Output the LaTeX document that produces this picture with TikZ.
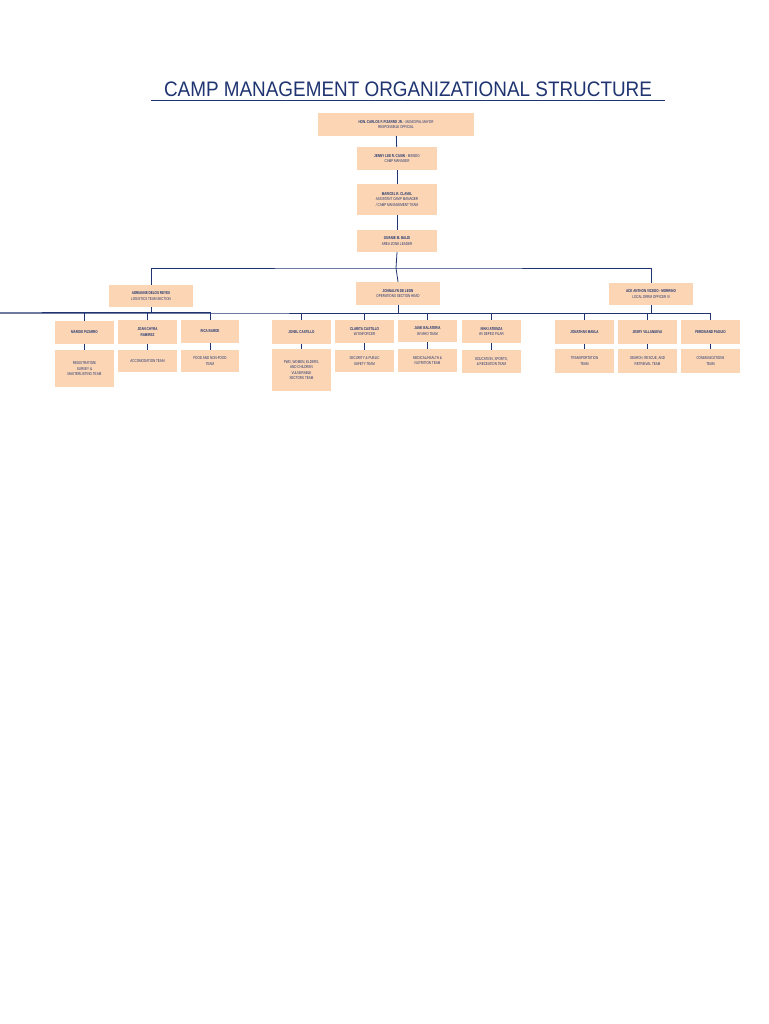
\documentclass[tikz,border=0pt]{standalone}
\usepackage{fontspec}
\setmainfont{Liberation Sans}[FakeStretch=0.72]
\definecolor{navy}{HTML}{1F3470}
\definecolor{peach}{HTML}{FCD5B4}
\begin{document}
\begin{tikzpicture}[x=1pt,y=-1pt,
  bx/.style={fill=peach,draw=none,text=navy,align=center,font=\fontsize{4.2}{5.4}\selectfont,inner sep=0},
  ln/.style={draw=navy,line width=0.8pt}]
\useasboundingbox[fill=white] (0,0) rectangle (768,1024);
\newcommand{\bb}[6]{\node[bx,minimum width=#3-#2,minimum height=#5-#4] (#1) at ({(#2+#3)/2},{(#4+#5)/2}) {#6};}
\node[text=navy,font=\fontsize{21}{24}\selectfont\addfontfeature{FakeStretch=0.9}] (title) at (408,89) {CAMP MANAGEMENT ORGANIZATIONAL STRUCTURE};
\draw[navy,line width=0.7pt] (151,100) -- (665,100);
\bb{mayor}{318}{474}{113}{136}{\textbf{HON. CARLOS F. PIZARRO JR.} - MUNICIPAL MAYOR\\RESPONSIBLE OFFICIAL}
\bb{jenny}{357}{437}{147}{170}{\textbf{JENNY LEE R. CASIN} - MSWDO\\CAMP MANAGER}
\bb{maricel}{357}{437}{184}{215}{\textbf{MARICEL R. CLAVEL}\\ASSISTANT CAMP MANAGER\\/ CAMP MANAGEMENT TEAM}
\bb{givanie}{357}{437}{230}{252}{\textbf{GIVANIE M. BALDI}\\AREA ZONE LEADER}
\bb{adr}{109}{193}{285}{307}{\textbf{ADRIANNE DELOS REYES}\\LOGISTICS TEAM SECTION}
\bb{jon}{356}{440}{282}{305}{\textbf{JONNALYN DE LEON}\\OPERATIONS SECTION HEAD}
\bb{ace}{609}{693}{283}{305}{\textbf{ACE ANTHON VICEDO - MORRINO}\\LOCAL DRRM OFFICER III}
\bb{margie}{55}{114}{321}{344}{\textbf{MARGIE PIZARRO}}
\bb{joan}{118}{177}{320}{344}{\textbf{JOAN CHYRA}\\\textbf{RAMIREZ}}
\bb{rica}{181}{239}{320}{343}{\textbf{RICA BARDE}}
\bb{t1}{55}{114}{350}{387}{REGISTRATION/\\SURVEY \&\\MASTERLISTING TEAM}
\bb{t2}{118}{177}{350}{372}{ACCOMODATION TEAM}
\bb{t3}{181}{239}{350}{372}{FOOD AND NON-FOOD\\TEAM}
\bb{jonel}{272}{331}{320}{344}{\textbf{JONEL CASTILLO}}
\bb{clarita}{335}{394}{320}{343}{\textbf{CLARITA CASTILLO}\\W/ ENFORCER}
\bb{jane}{398}{457}{320}{342}{\textbf{JANE BALATERIA}\\W/ MHO TEAM}
\bb{nikki}{462}{521}{320}{343}{\textbf{NIKKI ATIENZA}\\W/ DEPED PILAR}
\bb{t4}{272}{331}{349}{391}{PWD, WOMEN, ELDERS,\\AND CHILDREN\\VULNERABLE\\SECTORS TEAM}
\bb{t5}{335}{394}{350}{372}{SECURITY \& PUBLIC\\SAFETY TEAM}
\bb{t6}{398}{457}{349}{372}{MEDICAL/HEALTH \&\\NUTRITION TEAM}
\bb{t7}{462}{521}{350}{373}{EDUCATION, SPORTS,\\\& RECEATION TEAM}
\bb{jona}{555}{614}{320}{344}{\textbf{JONATHAN MANLA}}
\bb{jesry}{618}{677}{320}{344}{\textbf{JESRY VILLANUEVA}}
\bb{ferd}{681}{740}{320}{344}{\textbf{FERDINAND PAGUIO}}
\bb{t8}{555}{614}{349}{373}{TRANSPORTATION\\TEAM}
\bb{t9}{618}{677}{349}{373}{SEARCH, RESCUE, AND\\RETRIEVAL TEAM}
\bb{t10}{681}{740}{349}{373}{COMMUNICATIONS\\TEAM}
\draw[ln] (mayor) -- (jenny);
\draw[ln] (jenny) -- (maricel);
\draw[ln] (maricel) -- (givanie);
\coordinate (h) at (396,268);
\draw[ln] (givanie.south) -- (h);
\draw[ln] (adr.north) |- (h) -| (ace.north);
\draw[ln] (h) -- (jon.north);
\foreach \p/\a/\b/\c/\y in {adr/margie/joan/rica/312, ace/jona/jesry/ferd/313}{
  \draw[ln] (\p.south) -- (\p.south|-0,\y);
  \draw[ln] (\a.north) |- (0,\y) -| (\c.north);
  \draw[ln] (\b.north) -- (\b.north|-0,\y);
}
\draw[ln] (margie.north) |- (rica.north|-0,312);
\draw[ln] (jon.south) -- (jon.south|-0,313);
\draw[ln] (jonel.north) |- (nikki.north|-0,313) -- (nikki.north);
\draw[ln] (clarita.north) -- (clarita.north|-0,313);
\draw[ln] (jane.north) -- (jane.north|-0,313);
\foreach \a/\b in {margie/t1,joan/t2,rica/t3,jonel/t4,clarita/t5,jane/t6,nikki/t7,jona/t8,jesry/t9,ferd/t10}
  \draw[ln] (\a) -- (\b);
\end{tikzpicture}
\end{document}
